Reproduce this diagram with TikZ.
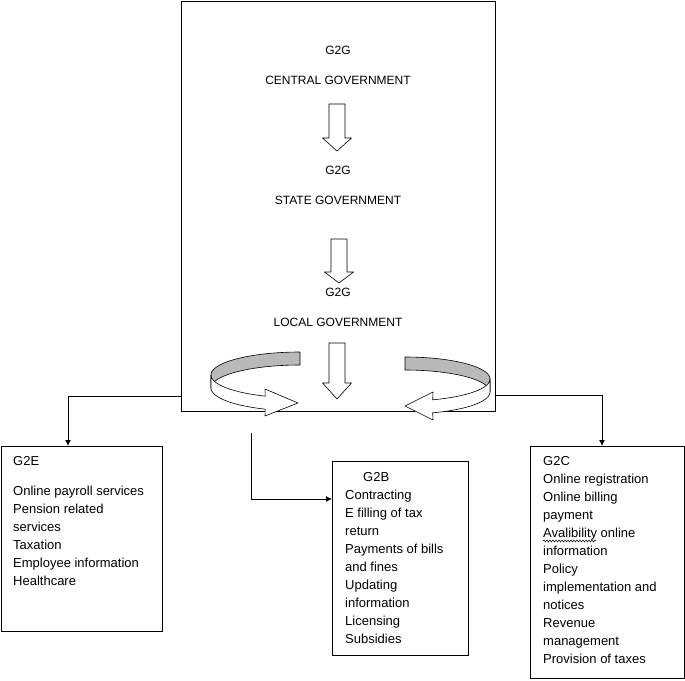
\documentclass[tikz,border=0pt]{standalone}
\usepackage{fontspec}
\setmainfont{Liberation Sans}
\usetikzlibrary{arrows.meta, decorations.pathmorphing}

% block arrow pointing down: centre x, top, head start, tip
\newcommand{\flowarrow}[4]{%
  \draw[ribbon, fill=white] (#1-8,#2) -- (#1+8,#2) -- (#1+8,#3) -- (#1+14.5,#3)
    -- (#1,#4) -- (#1-14.5,#3) -- (#1-8,#3) -- cycle;}

\begin{document}
\begin{tikzpicture}[x=1pt, y=-1pt,
    frame/.style={draw, line width=1pt, inner sep=0pt},
    level/.style={font=\fontsize{12}{14}\selectfont},
    list/.style={anchor=north west, inner sep=0pt, align=left,
      font=\fontsize{13}{18}\selectfont},
    conn/.style={line width=0.9pt, -{Latex[length=6pt, width=6pt]}},
    ribbon/.style={draw, line width=0.6pt, line join=round}]
  \useasboundingbox (0,0) rectangle (685,680);

  \node[frame, minimum width=314pt, minimum height=410pt] (main) at (338,206) {};

  \node[level] (central-tag) at (338,50) {G2G};
  \node[level] (central) at (338,80) {CENTRAL GOVERNMENT};
  \flowarrow{337}{104}{138}{151}
  \node[level] (state-tag) at (338,170) {G2G};
  \node[level] (state) at (338,200) {STATE GOVERNMENT};
  \flowarrow{339}{239}{272}{283}
  \node[level] (local-tag) at (338,292) {G2G};
  \node[level] (local) at (338,322) {LOCAL GOVERNMENT};
  \flowarrow{337}{343}{383}{399}

  % curled arrows
  \filldraw[ribbon, fill=gray!55]
    plot[domain=270:180, samples=30] ({300+89*cos(\x)}, {375+23*sin(\x)})
    -- plot[domain=180:270, samples=30] ({300+89*cos(\x)}, {388+23*sin(\x)}) -- cycle;
  \filldraw[ribbon, fill=white]
    plot[domain=180:113, samples=20] ({300+89*cos(\x)}, {375+23*sin(\x)})
    -- (265,389) -- (298,403) -- (265,416)
    -- plot[domain=113:180, samples=20] ({300+89*cos(\x)}, {388+23*sin(\x)}) -- cycle;
  \filldraw[ribbon, fill=gray!55]
    plot[domain=270:360, samples=30] ({405+85*cos(\x)}, {379+22*sin(\x)})
    -- plot[domain=360:270, samples=30] ({405+85*cos(\x)}, {392+22*sin(\x)}) -- cycle;
  \filldraw[ribbon, fill=white]
    plot[domain=0:71, samples=20] ({405+85*cos(\x)}, {379+22*sin(\x)})
    -- (433,392) -- (405,406) -- (433,420)
    -- plot[domain=71:0, samples=20] ({405+85*cos(\x)}, {392+22*sin(\x)}) -- cycle;

  \node[frame, anchor=north west, minimum width=161pt, minimum height=185pt] (g2e) at (1,446) {};
  \node[list] (g2e-list) at (13,456)
    {G2E\\[12pt]Online payroll services\\Pension related\\services\\Taxation\\
     Employee information\\Healthcare};

  \node[frame, anchor=north west, minimum width=136pt, minimum height=194pt] (g2b) at (332,461) {};
  \node[list] (g2b-list) at (345,472)
    {\hspace*{18pt}G2B\\Contracting\\E filling of tax\\return\\Payments of bills\\
     and fines\\Updating\\information\\Licensing\\Subsidies};

  \node[frame, anchor=north west, minimum width=154pt, minimum height=232pt] (g2c) at (530,446) {};
  \node[list] (g2c-list) at (543,456)
    {G2C\\Online registration\\Online billing\\payment\\Avalibility online\\
     information\\Policy\\implementation and\\notices\\Revenue\\management\\
     Provision of taxes};
  % spell-check squiggle
  \draw[line width=0.5pt, decorate, decoration={snake, amplitude=1pt, segment length=3pt}]
    (543,541) -- (596,541);

  \draw[conn] ([yshift=15pt]main.south west) -| ([xshift=67pt]g2e.north west);
  \draw[conn] ([yshift=16pt]main.south east) -| ([xshift=72pt]g2c.north west);
  \coordinate (g2b-feed) at (251,433);
  \draw[conn] (g2b-feed) |- ([yshift=-38pt]g2b.north west);
\end{tikzpicture}
\end{document}
